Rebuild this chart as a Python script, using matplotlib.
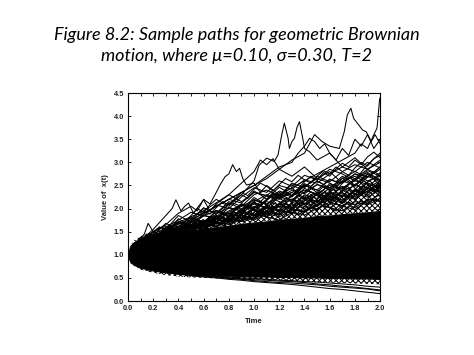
import matplotlib
matplotlib.use("Agg")
import matplotlib.pyplot as plt
import numpy as np

# ---------------- data ----------------
title = "Figure 8.2: Sample paths for geometric Brownian\nmotion, where \u03bc=0.10, \u03c3=0.30, T=2"
x_label = "Time"
y_label = "Value of  x(t)"
x_ticks = [0.0, 0.2, 0.4, 0.6, 0.8, 1.0, 1.2, 1.4, 1.6, 1.8, 2.0]
y_ticks = [0.0, 0.5, 1.0, 1.5, 2.0, 2.5, 3.0, 3.5, 4.0, 4.5]

# envelope of the bundle: solid black core and the densely criss-crossed bands around it
band_t = [0, 0.02, 0.05, 0.1, 0.2, 0.3, 0.4, 0.5, 0.6, 0.7, 0.8, 0.9, 1.0,
          1.1, 1.2, 1.3, 1.4, 1.5, 1.6, 1.7, 1.8, 1.9, 2.0]
core_hi = [1.03, 1.20, 1.28, 1.34, 1.41, 1.45, 1.50, 1.52, 1.57, 1.60, 1.63, 1.67,
           1.70, 1.72, 1.76, 1.78, 1.80, 1.84, 1.85, 1.88, 1.90, 1.92, 1.95]
core_lo = [0.97, 0.84, 0.78, 0.72, 0.66, 0.62, 0.59, 0.58, 0.57, 0.56, 0.55, 0.54,
           0.53, 0.53, 0.52, 0.52, 0.51, 0.51, 0.50, 0.50, 0.49, 0.49, 0.48]
mesh_hi = [1.03, 1.22, 1.32, 1.40, 1.50, 1.58, 1.64, 1.70, 1.77, 1.84, 1.90, 1.96,
           2.02, 2.09, 2.16, 2.22, 2.28, 2.35, 2.42, 2.48, 2.54, 2.60, 2.66]
mesh_lo = [0.97, 0.82, 0.75, 0.68, 0.61, 0.56, 0.53, 0.51, 0.50, 0.49, 0.48, 0.47,
           0.46, 0.45, 0.44, 0.43, 0.42, 0.41, 0.40, 0.39, 0.38, 0.37, 0.36]

# fringe paths sampled every 0.1
grid_t = [0.0, 0.1, 0.2, 0.3, 0.4, 0.5, 0.6, 0.7, 0.8, 0.9, 1.0,
          1.1, 1.2, 1.3, 1.4, 1.5, 1.6, 1.7, 1.8, 1.9, 2.0]
m1 = [1.0, 1.25, 1.38, 1.52, 1.70, 1.62, 1.85, 1.78, 2.02, 1.95, 2.20, 2.08, 2.35, 2.25, 2.50, 2.40, 2.62, 2.55, 2.75, 2.68, 2.85]
m2 = [1.0, 1.18, 1.45, 1.35, 1.60, 1.82, 1.70, 1.95, 1.88, 2.10, 2.02, 2.28, 2.15, 2.05, 2.30, 2.22, 2.45, 2.60, 2.50, 2.70, 2.58]
m3 = [1.0, 1.30, 1.22, 1.48, 1.40, 1.65, 1.58, 1.72, 1.90, 1.80, 1.98, 1.86, 2.05, 2.20, 2.10, 2.32, 2.25, 2.18, 2.40, 2.35, 2.52]
m4 = [1.0, 1.15, 1.32, 1.55, 1.45, 1.50, 1.75, 1.68, 1.60, 1.85, 1.78, 1.95, 1.88, 2.10, 2.00, 2.18, 2.08, 2.30, 2.22, 2.45, 2.38]
m5 = [1.0, 1.22, 1.40, 1.30, 1.58, 1.52, 1.68, 1.62, 1.80, 1.74, 1.92, 2.05, 1.96, 1.90, 2.12, 2.05, 2.25, 2.15, 2.02, 2.20, 2.15]
m6 = [1.0, 1.28, 1.50, 1.62, 1.55, 1.78, 2.00, 1.90, 2.15, 2.05, 2.30, 2.40, 2.28, 2.55, 2.45, 2.70, 2.58, 2.80, 2.95, 2.85, 3.05]
m7 = [1.0, 1.20, 1.36, 1.45, 1.68, 1.58, 1.72, 1.85, 1.76, 2.00, 2.12, 2.02, 2.25, 2.35, 2.20, 2.15, 2.38, 2.48, 2.36, 2.58, 2.72]
m8 = [1.0, 1.12, 1.30, 1.42, 1.38, 1.60, 1.55, 1.70, 1.66, 1.82, 1.75, 1.90, 1.82, 1.98, 1.92, 2.10, 2.02, 1.95, 2.15, 2.08, 2.22]
m9 = [1.0, 1.26, 1.34, 1.60, 1.75, 1.92, 1.84, 2.08, 2.00, 2.25, 2.45, 2.35, 2.60, 2.48, 2.72, 2.62, 2.85, 2.75, 2.60, 2.82, 2.70]
m10 = [1.0, 1.18, 1.42, 1.50, 1.66, 1.80, 1.72, 1.88, 2.02, 1.95, 2.15, 2.30, 2.22, 2.40, 2.32, 2.52, 2.45, 2.65, 2.80, 2.68, 2.90]
m11 = [1.0, 1.24, 1.32, 1.48, 1.62, 1.55, 1.70, 1.82, 1.92, 2.10, 2.02, 2.18, 2.38, 2.28, 2.48, 2.65, 2.55, 2.42, 2.62, 2.95, 3.20]
m12 = [1.0, 1.16, 1.28, 1.40, 1.52, 1.66, 1.60, 1.76, 1.70, 1.88, 1.98, 1.90, 2.05, 2.00, 2.18, 2.30, 2.22, 2.38, 2.50, 2.45, 2.60]
m13 = [1.0, 1.22, 1.30, 1.45, 1.58, 1.50, 1.64, 1.78, 1.70, 1.86, 1.80, 1.96, 2.10, 2.00, 1.92, 2.08, 2.20, 2.12, 2.32, 2.25, 2.40]
m14 = [1.0, 1.10, 1.25, 1.38, 1.50, 1.62, 1.74, 1.66, 1.82, 1.92, 1.85, 2.02, 1.94, 2.12, 2.25, 2.15, 2.35, 2.28, 2.20, 2.38, 2.55]
m15 = [1.0, 1.26, 1.44, 1.58, 1.52, 1.70, 1.84, 1.96, 1.88, 2.05, 2.18, 2.10, 2.25, 2.18, 2.36, 2.52, 2.40, 2.58, 2.70, 2.55, 2.48]
m16 = [1.0, 1.14, 1.28, 1.36, 1.48, 1.58, 1.68, 1.62, 1.78, 1.72, 1.88, 1.82, 1.75, 1.92, 1.86, 2.00, 2.14, 2.05, 1.98, 2.16, 2.30]
m17 = [1.0, 1.20, 1.38, 1.56, 1.72, 1.65, 1.88, 2.05, 2.20, 2.12, 2.35, 2.28, 2.50, 2.42, 2.62, 2.55, 2.75, 2.90, 2.80, 3.00, 2.88]
m18 = [1.0, 1.18, 1.26, 1.42, 1.55, 1.70, 1.62, 1.80, 1.95, 2.08, 2.00, 2.15, 2.08, 2.28, 2.40, 2.32, 2.50, 2.42, 2.65, 2.78, 2.62]
l1 = [1.0, 0.82, 0.74, 0.66, 0.58, 0.55, 0.52, 0.50, 0.47, 0.45, 0.42, 0.40, 0.38, 0.36, 0.33, 0.30, 0.27, 0.25, 0.22, 0.19, 0.16]
l2 = [1.0, 0.85, 0.76, 0.68, 0.62, 0.57, 0.55, 0.53, 0.50, 0.48, 0.46, 0.45, 0.43, 0.42, 0.40, 0.37, 0.35, 0.32, 0.30, 0.27, 0.24]
l3 = [1.0, 0.84, 0.78, 0.70, 0.64, 0.60, 0.56, 0.54, 0.52, 0.50, 0.49, 0.47, 0.45, 0.44, 0.42, 0.41, 0.39, 0.37, 0.35, 0.32, 0.30]
l4 = [1.0, 0.86, 0.75, 0.67, 0.60, 0.56, 0.54, 0.51, 0.49, 0.47, 0.44, 0.42, 0.40, 0.39, 0.37, 0.35, 0.32, 0.30, 0.28, 0.26, 0.22]

# fringe paths sampled every 0.05
fine_t = [0.0, 0.05, 0.1, 0.15, 0.2, 0.25, 0.3, 0.35, 0.4, 0.45, 0.5, 0.55, 0.6, 0.65, 0.7, 0.75,
          0.8, 0.85, 0.9, 0.95, 1.0, 1.05, 1.1, 1.15, 1.2, 1.25, 1.3, 1.35, 1.4, 1.45, 1.5, 1.55,
          1.6, 1.65, 1.7, 1.75, 1.8, 1.85, 1.9, 1.95, 2.0]
n1 = [1.00, 1.12, 1.20, 1.30, 1.25, 1.38, 1.45, 1.40, 1.52, 1.60, 1.55, 1.68, 1.62, 1.75, 1.70, 1.82, 1.76, 1.88, 1.80, 1.92, 1.86,
      1.98, 1.90, 2.05, 1.96, 2.10, 2.02, 2.15, 2.08, 2.22, 2.12, 2.28, 2.18, 2.32, 2.25, 2.40, 2.30, 2.45, 2.36, 2.50, 2.42]
n2 = [1.00, 1.15, 1.10, 1.26, 1.35, 1.30, 1.42, 1.56, 1.50, 1.46, 1.60, 1.72, 1.66, 1.80, 1.95, 1.88, 1.82, 1.98, 2.10, 2.02, 1.95,
      2.08, 2.20, 2.32, 2.22, 2.15, 2.28, 2.40, 2.34, 2.48, 2.60, 2.52, 2.45, 2.38, 2.55, 2.68, 2.60, 2.75, 2.85, 2.78, 2.90]
n3 = [1.00, 1.18, 1.28, 1.22, 1.36, 1.48, 1.42, 1.55, 1.50, 1.62, 1.74, 1.68, 1.60, 1.72, 1.85, 1.78, 1.70, 1.84, 1.96, 1.90, 2.05,
      1.98, 1.88, 2.00, 2.12, 2.04, 1.95, 2.10, 2.22, 2.15, 2.05, 2.18, 2.30, 2.20, 2.12, 2.26, 2.38, 2.30, 2.44, 2.36, 2.50]
n4 = [1.00, 1.10, 1.22, 1.34, 1.28, 1.40, 1.36, 1.50, 1.62, 1.56, 1.70, 1.82, 1.95, 1.88, 2.02, 2.15, 2.08, 2.22, 2.35, 2.28, 2.42,
      2.55, 2.48, 2.38, 2.52, 2.65, 2.58, 2.72, 2.62, 2.55, 2.70, 2.82, 2.75, 2.90, 2.80, 2.72, 2.88, 3.00, 2.92, 3.08, 3.15]
n5 = [1.00, 1.14, 1.24, 1.18, 1.30, 1.42, 1.38, 1.34, 1.46, 1.55, 1.50, 1.58, 1.52, 1.64, 1.72, 1.66, 1.76, 1.70, 1.80, 1.74, 1.84,
      1.90, 1.82, 1.94, 1.88, 1.98, 1.92, 1.86, 1.96, 2.04, 1.98, 2.08, 2.02, 1.95, 2.06, 2.14, 2.08, 2.18, 2.10, 2.20, 2.16]
n6 = [1.00, 1.20, 1.32, 1.45, 1.40, 1.55, 1.68, 1.62, 1.78, 1.70, 1.85, 2.00, 1.92, 2.08, 2.20, 2.12, 2.05, 2.18, 2.30, 2.22, 2.38,
      2.30, 2.20, 2.34, 2.46, 2.38, 2.28, 2.40, 2.52, 2.44, 2.35, 2.48, 2.40, 2.55, 2.66, 2.58, 2.48, 2.62, 2.74, 2.65, 2.78]
n7 = [1.00, 1.12, 1.18, 1.30, 1.42, 1.36, 1.48, 1.44, 1.58, 1.52, 1.65, 1.60, 1.70, 1.82, 1.76, 1.90, 1.84, 1.78, 1.92, 2.04, 1.96,
      1.90, 2.02, 1.95, 2.10, 2.22, 2.15, 2.30, 2.24, 2.36, 2.28, 2.20, 2.34, 2.26, 2.18, 2.30, 2.42, 2.35, 2.28, 2.40, 2.34]
n8 = [1.00, 1.16, 1.26, 1.38, 1.50, 1.44, 1.58, 1.52, 1.48, 1.62, 1.58, 1.72, 1.66, 1.78, 1.72, 1.66, 1.80, 1.92, 1.86, 2.00, 2.14,
      2.06, 2.20, 2.34, 2.26, 2.40, 2.52, 2.44, 2.58, 2.70, 2.62, 2.78, 2.70, 2.86, 2.98, 2.90, 3.05, 2.95, 3.12, 3.22, 3.10]
n9 = [1.00, 1.10, 1.20, 1.16, 1.28, 1.36, 1.32, 1.44, 1.40, 1.52, 1.48, 1.58, 1.54, 1.64, 1.60, 1.70, 1.66, 1.76, 1.72, 1.80, 1.78,
      1.86, 1.82, 1.90, 1.86, 1.94, 1.90, 1.98, 1.94, 2.02, 1.98, 2.06, 2.02, 2.10, 2.06, 2.12, 2.08, 2.16, 2.12, 2.20, 2.18]
n10 = [1.00, 1.22, 1.36, 1.30, 1.46, 1.60, 1.54, 1.70, 1.85, 1.78, 1.72, 1.88, 2.02, 1.95, 1.88, 2.00, 2.12, 2.06, 1.98, 2.10, 2.24,
       2.16, 2.08, 2.20, 2.32, 2.25, 2.18, 2.30, 2.44, 2.36, 2.28, 2.40, 2.54, 2.46, 2.60, 2.72, 2.64, 2.56, 2.68, 2.80, 2.72]
n11 = [1.00, 1.08, 1.18, 1.28, 1.24, 1.34, 1.46, 1.40, 1.54, 1.66, 1.60, 1.74, 1.68, 1.62, 1.76, 1.88, 1.82, 1.96, 2.08, 2.00, 2.14,
       2.06, 2.18, 2.30, 2.24, 2.36, 2.28, 2.42, 2.54, 2.48, 2.60, 2.52, 2.64, 2.58, 2.70, 2.62, 2.50, 2.64, 2.76, 2.68, 2.60]
n12 = [1.00, 1.18, 1.30, 1.24, 1.38, 1.34, 1.46, 1.58, 1.52, 1.64, 1.56, 1.50, 1.62, 1.74, 1.68, 1.80, 1.74, 1.86, 1.80, 1.92, 1.84,
       1.96, 2.08, 2.00, 1.92, 2.04, 1.98, 2.10, 2.04, 2.16, 2.08, 2.22, 2.14, 2.26, 2.34, 2.28, 2.40, 2.32, 2.46, 2.38, 2.52]

# outlying paths traced at irregular times
a_t = [0, 0.1, 0.2, 0.3, 0.4, 0.5, 0.55, 0.6, 0.65, 0.7, 0.73, 0.77, 0.8, 0.83, 0.86, 0.885, 0.91, 0.94,
       1.0, 1.05, 1.1, 1.2, 1.3, 1.4, 1.5, 1.6, 1.7, 1.8, 1.9, 2.0]
a_v = [1.0, 1.2, 1.5, 1.65, 1.9, 2.05, 1.95, 2.2, 2.1, 2.35, 2.51, 2.69, 2.75, 2.95, 2.80, 2.87, 2.65, 2.51,
       2.55, 2.35, 2.5, 2.3, 2.45, 2.2, 2.35, 2.15, 2.4, 2.25, 2.5, 2.35]
b_t = [0, 0.1, 0.2, 0.3, 0.4, 0.5, 0.6, 0.7, 0.8, 0.9, 1.0, 1.04, 1.1, 1.16, 1.19, 1.22, 1.24, 1.27, 1.28,
       1.3, 1.32, 1.34, 1.36, 1.386, 1.4, 1.44, 1.5, 1.6, 1.7, 1.8, 1.9, 2.0]
b_v = [1.0, 1.15, 1.35, 1.5, 1.45, 1.7, 1.85, 1.8, 2.1, 2.3, 2.6, 2.94, 3.09, 3.02, 3.16, 3.6, 3.85, 3.52, 3.30,
       3.45, 3.52, 3.75, 3.88, 3.52, 3.30, 3.23, 3.05, 3.2, 2.9, 3.1, 2.85, 3.0]
c_t = [0, 0.1, 0.2, 0.3, 0.4, 0.5, 0.6, 0.7, 0.8, 0.9, 1.0, 1.1, 1.2, 1.3, 1.4, 1.48, 1.54, 1.6, 1.676,
       1.715, 1.74, 1.768, 1.79, 1.83, 1.86, 1.89, 1.93, 1.96, 2.0]
c_v = [1.0, 1.2, 1.3, 1.5, 1.6, 1.75, 1.9, 2.05, 2.2, 2.35, 2.5, 2.65, 2.85, 3.05, 3.2, 3.6, 3.45, 3.35, 3.30,
       3.66, 4.03, 4.17, 3.95, 3.81, 3.70, 3.66, 3.45, 3.6, 3.4]
d_t = [0, 0.1, 0.2, 0.3, 0.4, 0.5, 0.6, 0.7, 0.8, 0.9, 1.0, 1.1, 1.2, 1.3, 1.4, 1.5, 1.6, 1.7, 1.8, 1.85,
       1.9, 1.95, 1.975, 1.985, 1.995, 2.0]
d_v = [1.0, 1.1, 1.3, 1.25, 1.5, 1.6, 1.55, 1.8, 1.75, 1.95, 2.1, 2.0, 2.3, 2.45, 2.6, 2.75, 2.9, 3.05, 3.2, 3.4,
       3.3, 3.6, 3.74, 4.03, 4.35, 4.4]
e_t = [0, 0.2, 0.4, 0.6, 0.8, 1.0, 1.1, 1.2, 1.3, 1.35, 1.4, 1.44, 1.48, 1.52, 1.56, 1.6, 1.65, 1.7, 1.75,
       1.8, 1.85, 1.9, 1.95, 2.0]
e_v = [1.0, 1.3, 1.6, 1.9, 2.2, 2.5, 2.7, 2.9, 3.0, 3.2, 3.35, 3.52, 3.45, 3.3, 3.4, 3.2, 3.05, 3.3, 3.15,
       3.5, 3.35, 3.6, 3.3, 3.5]
f_t = [0, 0.2, 0.4, 0.6, 0.8, 0.9, 1.0, 1.05, 1.1, 1.15, 1.2, 1.3, 1.4, 1.5, 1.6, 1.7, 1.8, 1.9, 2.0]
f_v = [1.0, 1.35, 1.7, 1.95, 2.3, 2.55, 2.8, 3.05, 2.95, 3.08, 2.85, 2.7, 2.9, 2.65, 2.8, 2.55, 2.75, 2.6, 2.7]
g_t = [0, 0.1, 0.2, 0.3, 0.35, 0.38, 0.42, 0.45, 0.48, 0.52, 0.56, 0.6, 0.65, 0.7, 0.8, 0.9, 1.0,
       1.2, 1.4, 1.6, 1.8, 2.0]
g_v = [1.0, 1.3, 1.55, 1.85, 2.0, 2.19, 1.95, 2.05, 2.12, 1.9, 2.05, 2.19, 1.95, 2.1, 2.3, 2.15, 2.35,
       2.2, 2.5, 2.3, 2.6, 2.45]
h_t = [0, 0.05, 0.1, 0.13, 0.16, 0.2, 0.25, 0.3, 0.4, 0.5, 0.6]
h_v = [1.0, 1.2, 1.35, 1.45, 1.68, 1.5, 1.6, 1.55, 1.7, 1.6, 1.55]

grid_paths = [m1, m2, m3, m4, m5, m6, m7, m8, m9, m10, m11, m12, m13, m14, m15, m16, m17, m18,
              l1, l2, l3, l4]
fine_paths = [n1, n2, n3, n4, n5, n6, n7, n8, n9, n10, n11, n12]
traced_paths = [(a_t, a_v), (b_t, b_v), (c_t, c_v), (d_t, d_v), (e_t, e_v), (f_t, f_v),
                (g_t, g_v), (h_t, h_v)]

# ---------------- figure ----------------
plt.rcParams["hatch.linewidth"] = 0.75
plt.rcParams["hatch.color"] = "black"
fig = plt.figure(figsize=(4.74, 3.55), dpi=100)
fig.patch.set_facecolor("white")
ax = fig.add_axes([0.270, 0.152, 0.532, 0.586])

ax.fill_between(band_t, core_hi, mesh_hi, facecolor="white", edgecolor="black", hatch="xxxxxx", lw=0)
ax.fill_between(band_t, mesh_lo, core_lo, facecolor="white", edgecolor="black", hatch="xxxxxx", lw=0)
ax.fill_between(band_t, core_lo, core_hi, color="black", lw=0.8, edgecolor="black")
lw = 0.75
for p in grid_paths:
    n = min(len(grid_t), len(p))
    ax.plot(grid_t[:n], p[:n], color="black", lw=lw)
for p in fine_paths:
    n = min(len(fine_t), len(p))
    ax.plot(fine_t[:n], p[:n], color="black", lw=lw)
for t, v in traced_paths:
    n = min(len(t), len(v))
    ax.plot(t[:n], v[:n], color="black", lw=lw)

ax.set_xlim(0, 2.0)
ax.set_ylim(0, 4.5)
ax.set_xticks(x_ticks)
ax.set_xticks(np.arange(0.1, 2.0, 0.2), minor=True)
ax.set_yticks(y_ticks)
ax.set_xticklabels([f"{v:.1f}" for v in x_ticks])
ax.set_yticklabels([f"{v:.1f}" for v in y_ticks])
ax.tick_params(which="both", direction="in", top=True, right=True, length=2.5, width=0.6,
               labelsize=5.3, pad=3)
for lab in ax.get_xticklabels() + ax.get_yticklabels():
    lab.set_fontfamily("Liberation Sans")
    lab.set_fontweight("bold")
    lab.set_color("#222222")
for s in ax.spines.values():
    s.set_linewidth(0.8)

ax.set_xlabel(x_label, fontsize=5.5, family="Liberation Sans", fontweight="bold", color="#222222", labelpad=4)
ax.set_ylabel(y_label, fontsize=5.5, family="Liberation Sans", fontweight="bold", color="#222222", labelpad=3)

fig.text(0.5, 0.872, title, ha="center", va="center", fontsize=13, family="Lato", style="italic",
         linespacing=1.35, color="black")

fig.savefig("out.png", dpi=100)
